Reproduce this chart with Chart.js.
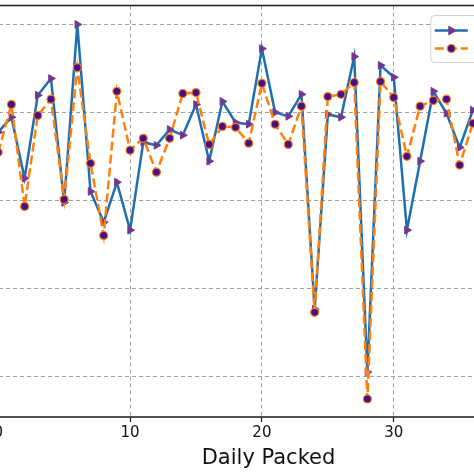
<!DOCTYPE html>
<html><head><meta charset="utf-8">
<script src="https://cdn.jsdelivr.net/npm/chart.js@4"></script>
<style>
html,body{margin:0;padding:0;overflow:hidden;background:#fff;width:474px;height:474px}
#wrap{position:absolute;left:-40px;top:0;width:640px;height:474px}
</style>
</head><body>
<div id="wrap"><canvas id="c" width="640" height="474"></canvas></div>
<script>
// ---- data ----
const days = [0,1,2,3,4,5,6,7,8,9,10,11,12,13,14,15,16,17,18,19,20,21,22,23,24,25,26,27,28,29,30,31,32,33,34,35,36];
const seriesLabels = ['Actual', 'Predicted'];
const packedActual = [0.755,0.789,0.650,0.839,0.877,0.595,1.000,0.620,0.550,0.641,0.532,0.732,0.725,0.761,0.748,0.818,0.689,0.825,0.777,0.773,0.945,0.800,0.791,0.841,0.352,0.795,0.789,0.927,0.209,0.907,0.880,0.532,0.689,0.848,0.798,0.720,0.805];
const packedPredicted = [0.709,0.818,0.586,0.793,0.830,0.602,0.902,0.684,0.520,0.848,0.714,0.741,0.664,0.741,0.843,0.845,0.727,0.768,0.766,0.730,0.866,0.773,0.727,0.814,0.345,0.836,0.841,0.868,0.148,0.870,0.834,0.700,0.814,0.827,0.830,0.680,0.775];
const xTicks = [0,10,20,30,40];
const yTicks = [0.2,0.4,0.6,0.8,1.0];
const xTitle = 'Daily Packed';

const BLUE = '#1f6fb0', ORANGE = '#ff7f0e';
const FONT = "'DejaVu Sans', sans-serif";

const framePlugin = {
  id: 'frame',
  afterDatasetsDraw(chart) {
    const {ctx, chartArea: a} = chart;
    ctx.save();
    ctx.strokeStyle = '#262626';
    ctx.lineWidth = 1.6;
    ctx.strokeRect(a.left, a.top, a.right - a.left, a.bottom - a.top);
    ctx.restore();
  }
};

function drawTri(ctx, x, y, r, fill, stroke) {
  ctx.beginPath();
  ctx.moveTo(x + r, y);
  ctx.lineTo(x - r * 0.5, y - r * 0.866);
  ctx.lineTo(x - r * 0.5, y + r * 0.866);
  ctx.closePath();
  ctx.fillStyle = fill; ctx.fill();
  ctx.lineWidth = 1; ctx.strokeStyle = stroke; ctx.stroke();
}

const legendPlugin = {
  id: 'boxLegend',
  afterDraw(chart) {
    const {ctx, chartArea: a} = chart;
    const w = 127, h = 47;
    const right = a.right - 8, top = a.top + 10, left = right - w;
    ctx.save();
    ctx.beginPath();
    ctx.roundRect(left, top, w, h, 4);
    ctx.fillStyle = 'rgba(255,255,255,0.85)';
    ctx.fill();
    ctx.strokeStyle = '#d0d0d0';
    ctx.lineWidth = 1;
    ctx.stroke();
    const hx0 = left + 4, hx1 = left + 37, hc = (hx0 + hx1) / 2;
    // entry 1
    let y = top + 15;
    ctx.beginPath(); ctx.moveTo(hx0, y); ctx.lineTo(hx1, y);
    ctx.strokeStyle = BLUE; ctx.lineWidth = 2.5; ctx.setLineDash([]); ctx.stroke();
    drawTri(ctx, hc, y, 5, '#6b3a8e', '#7a3a90');
    // entry 2
    y = top + 33;
    ctx.beginPath(); ctx.moveTo(hx0, y); ctx.lineTo(hx1, y);
    ctx.strokeStyle = ORANGE; ctx.lineWidth = 2.5; ctx.setLineDash([9, 4]); ctx.stroke();
    ctx.setLineDash([]);
    ctx.beginPath(); ctx.arc(hc, y, 4, 0, Math.PI * 2);
    ctx.fillStyle = '#45108c'; ctx.fill();
    ctx.lineWidth = 1.2; ctx.strokeStyle = ORANGE; ctx.stroke();
    ctx.fillStyle = '#111';
    ctx.font = '15px ' + FONT;
    ctx.textBaseline = 'middle';
    ctx.fillText(seriesLabels[0], left + 50, top + 15);
    ctx.fillText(seriesLabels[1], left + 50, top + 33);
    ctx.restore();
  }
};

new Chart(document.getElementById('c'), {
  type: 'line',
  data: {
    datasets: [
      {
        label: seriesLabels[0],
        data: days.map((d, i) => ({x: d, y: packedActual[i]})),
        borderColor: BLUE,
        borderWidth: 2.5,
        pointStyle: 'triangle',
        rotation: 90,
        pointRadius: 4.5,
        pointBackgroundColor: '#6b3a8e',
        pointBorderColor: '#7a3a90',
        pointBorderWidth: 1,
        tension: 0,
        order: 1
      },
      {
        label: seriesLabels[1],
        data: days.map((d, i) => ({x: d, y: packedPredicted[i]})),
        borderColor: ORANGE,
        borderWidth: 2.5,
        borderDash: [9, 4],
        pointStyle: 'circle',
        pointRadius: 4,
        pointBackgroundColor: '#45108c',
        pointBorderColor: ORANGE,
        pointBorderWidth: 1.2,
        tension: 0,
        order: 0
      }
    ]
  },
  options: {
    responsive: false,
    animation: false,
    devicePixelRatio: 1,
    layout: {padding: {left: 11.2, right: 34.2, top: 5, bottom: 0}},
    plugins: {legend: {display: false}, tooltip: {enabled: false}},
    scales: {
      x: {
        type: 'linear',
        min: -2.05, max: 43.05,
        afterBuildTicks: s => { s.ticks = xTicks.map(v => ({value: v})); },
        afterFit: s => { s.height = 57; },
        grid: {color: '#a0a0a0', lineWidth: 1, tickLength: 5, tickColor: '#262626', tickWidth: 1.3, tickBorderDash: []},
        border: {display: false, dash: [4, 3]},
        ticks: {color: '#111', font: {family: FONT, size: 15}, padding: 2, maxRotation: 0, autoSkip: false},
        title: {display: true, text: xTitle, color: '#111', font: {family: FONT, size: 21}, padding: {top: 0, bottom: 3}}
      },
      y: {
        type: 'linear',
        min: 0.1068, max: 1.0432,
        afterBuildTicks: s => { s.ticks = yTicks.map(v => ({value: v})); },
        afterFit: s => { s.width = 0; },
        grid: {color: '#a0a0a0', lineWidth: 1, drawTicks: false},
        border: {display: false, dash: [4, 3]},
        ticks: {display: false}
      }
    }
  },
  plugins: [framePlugin, legendPlugin]
});
</script>
</body></html>
